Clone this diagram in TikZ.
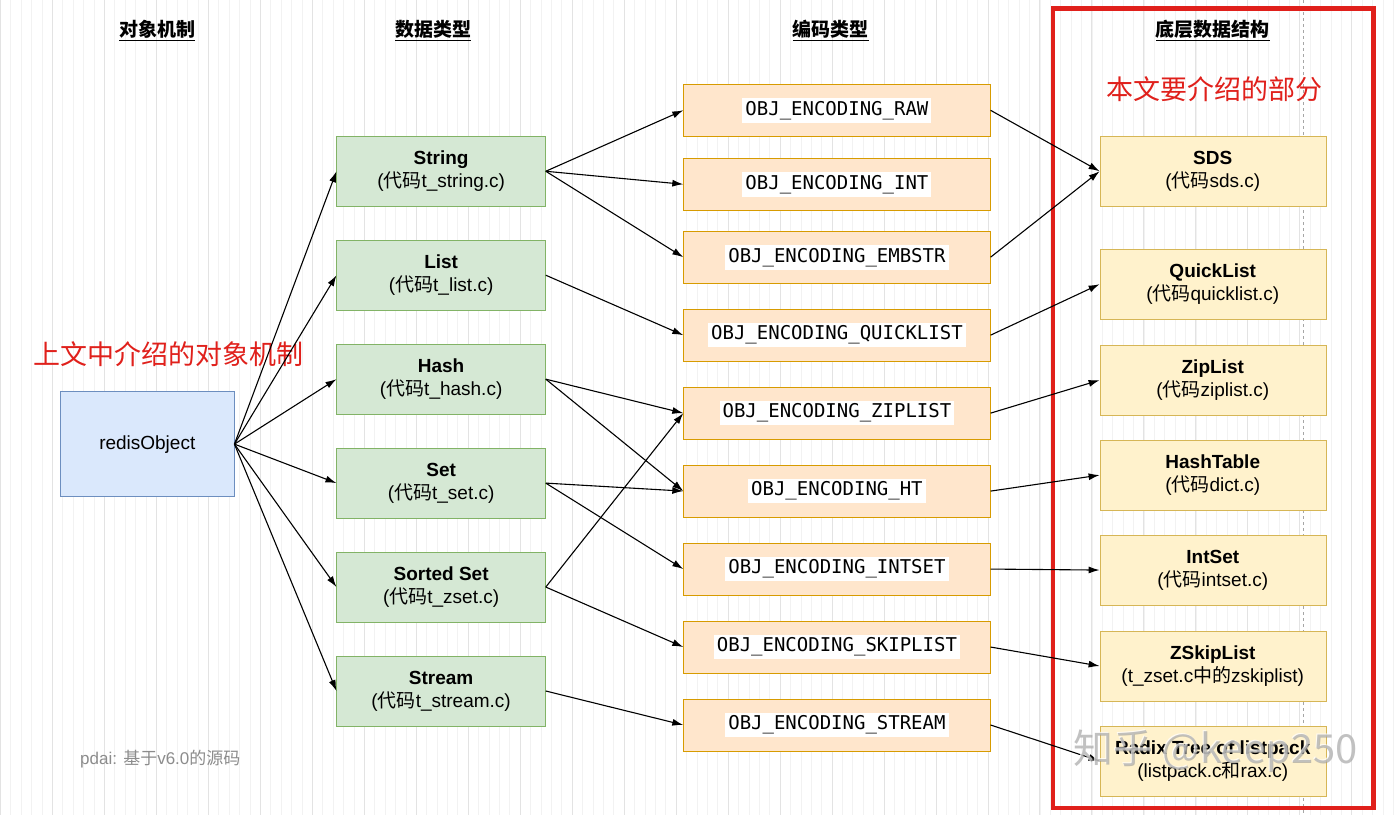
\documentclass[tikz,border=0pt]{standalone}
\usepackage{fontspec}
\setmainfont{Liberation Sans}
\setmonofont{DejaVu Sans Mono}
\newfontfamily\cjk{Noto Sans CJK SC}
\begin{document}
\begin{tikzpicture}[x=1pt,y=-1pt,
  dtype/.style={draw=gB,fill=gF,minimum width=209pt,minimum height=70pt,inner sep=0pt,align=center,font=\fontsize{19}{23}\selectfont},
  enc/.style={draw=oB,fill=oF,minimum width=307pt,minimum height=52pt,inner sep=0pt,font=\ttfamily\fontsize{19}{22}\selectfont},
  ds/.style={draw=yB,fill=yF,minimum width=226pt,minimum height=70pt,inner sep=0pt,align=center,font=\fontsize{19}{23}\selectfont},
  hdr/.style={font=\cjk\bfseries\fontsize{19}{22}\selectfont},
  arr/.style={-{Latex[length=11pt,width=7pt]},line width=1.1pt}]
\definecolor{gB}{HTML}{82B366}\definecolor{gF}{HTML}{D5E8D4}
\definecolor{oB}{HTML}{D79B00}\definecolor{oF}{HTML}{FFE6CC}
\definecolor{yB}{HTML}{D6B656}\definecolor{yF}{HTML}{FFF2CC}
\definecolor{bB}{HTML}{6C8EBF}\definecolor{bF}{HTML}{DAE8FC}
\definecolor{rd}{HTML}{E0201B}
\usetikzlibrary{arrows.meta}
\fill[white] (0,0) rectangle (1400,815);
\draw[black!5,line width=0.5pt,step=10.4] (0,0) grid (1400,815);
\draw[black!11,line width=0.7pt,step=52] (0,0) grid (1400,815);
\useasboundingbox (0,0) rectangle (1400,815);
\draw[black!35,dashed,line width=1pt] (1304,0) -- (1304,815);
% headers
\node[hdr] (h1) at (157,30) {\underline{对象机制}};
\node[hdr] (h2) at (433,30) {\underline{数据类型}};
\node[hdr] (h3) at (831,30) {\underline{编码类型}};
\node[hdr] (h4) at (1213,30) {\underline{底层数据结构}};
\node[text=rd,font=\cjk\fontsize{27}{30}\selectfont] (t1) at (1215,89) {本文要介绍的部分};
\node[text=rd,font=\cjk\fontsize{27}{30}\selectfont] (t2) at (168,354) {上文中介绍的对象机制};
\node[text=black!45,font=\fontsize{17}{20}\selectfont] (t3) at (160,759) {pdai: {\cjk 基于}v6.0{\cjk 的源码}};
% object
\node[draw=bB,fill=bF,minimum width=174pt,minimum height=105pt,font=\fontsize{19}{23}\selectfont] (ro) at (147,444) {redisObject};
% data types
\node[dtype] (s1) at (441,171) {\textbf{String}\\({\cjk 代码}t\_string.c)};
\node[dtype] (s2) at (441,275) {\textbf{List}\\({\cjk 代码}t\_list.c)};
\node[dtype] (s3) at (441,379) {\textbf{Hash}\\({\cjk 代码}t\_hash.c)};
\node[dtype] (s4) at (441,483) {\textbf{Set}\\({\cjk 代码}t\_set.c)};
\node[dtype] (s5) at (441,587) {\textbf{Sorted Set}\\({\cjk 代码}t\_zset.c)};
\node[dtype] (s6) at (441,691) {\textbf{Stream}\\({\cjk 代码}t\_stream.c)};
% encodings
\foreach \n/\y/\t in {e1/110/RAW,e2/184/INT,e3/257/EMBSTR,e4/335/QUICKLIST,e5/413/ZIPLIST,e6/491/HT,e7/569/INTSET,e8/647/SKIPLIST,e9/725/STREAM}
  \node[enc] (\n) at (837,\y) {\colorbox{white}{OBJ\_ENCODING\_\t}};
% data structures
\node[ds] (d1) at (1213,171) {\textbf{SDS}\\({\cjk 代码}sds.c)};
\node[ds] (d2) at (1213,284) {\textbf{QuickList}\\({\cjk 代码}quicklist.c)};
\node[ds] (d3) at (1213,380) {\textbf{ZipList}\\({\cjk 代码}ziplist.c)};
\node[ds] (d4) at (1213,475) {\textbf{HashTable}\\({\cjk 代码}dict.c)};
\node[ds] (d5) at (1213,570) {\textbf{IntSet}\\({\cjk 代码}intset.c)};
\node[ds] (d6) at (1213,666) {\textbf{ZSkipList}\\(t\_zset.c{\cjk 中的}zskiplist)};
\node[ds] (d7) at (1213,761) {\textbf{Radix Tree of listpack}\\(listpack.c{\cjk 和}rax.c)};
% red frame
\draw[rd,line width=4.5pt] (1053,8) rectangle (1374,808);
% edges
\foreach \t in {s1,s2,s3,s4,s5,s6} \draw[arr] (ro.east) -- (\t.west);
\foreach \a/\b in {s1/e1,s1/e2,s1/e3,s2/e4,s3/e5,s3/e6,s4/e6,s4/e7,s5/e5,s5/e8,s6/e9,
  e1/d1,e3/d1,e4/d2,e5/d3,e6/d4,e7/d5,e8/d6,e9/d7}
  \draw[arr] (\a.east) -- (\b.west);
% watermark
\node[text=white,opacity=0.75,font=\cjk\fontsize{40}{44}\selectfont] (wm) at (1215,750) {知乎 @keep250};
\node[text=black!40,opacity=0.6,font=\cjk\fontsize{40}{44}\selectfont] at (1216,751) {知乎 @keep250};
\end{tikzpicture}
\end{document}
